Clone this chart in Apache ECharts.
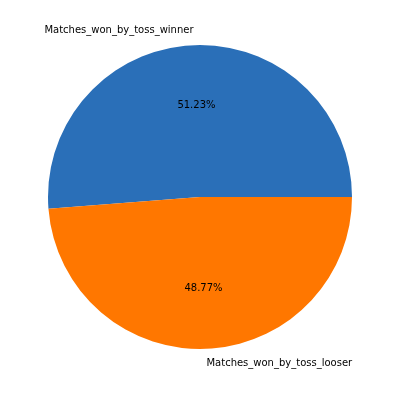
<!DOCTYPE html>
<html>
<head>
<meta charset="utf-8">
<script src="https://cdn.jsdelivr.net/npm/echarts@6/dist/echarts.min.js"></script>
<style>
html,body{margin:0;padding:0;background:#fff}
#main{width:411px;height:404px}
</style>
</head>
<body>
<div id="main"></div>
<script>
// toss outcome share
var labels = ['Matches_won_by_toss_winner', 'Matches_won_by_toss_looser'];
var shares = [51.23, 48.77];
var colors = ['#2a6fb8', '#ff7700'];

var pieData = [];
for (var i = 0; i < labels.length; i++) {
    pieData.push({name: labels[i], value: shares[i], itemStyle: {color: colors[i]}});
}
var ghostData = [];
for (var i = 0; i < labels.length; i++) {
    ghostData.push({name: labels[i], value: shares[i]});
}

var base = {
    type: 'pie',
    center: [200, 197],
    startAngle: 0,
    clockwise: false,
    avoidLabelOverlap: false,
    animation: false
};

var myChart = echarts.init(document.getElementById('main'));
myChart.setOption({
    backgroundColor: '#fff',
    series: [
        Object.assign({}, base, {
            radius: 152,
            data: pieData,
            label: {show: false},
            labelLine: {show: false},
            emphasis: {disabled: true}
        }),
        // percentages at ~0.6 r
        Object.assign({}, base, {
            radius: 177,
            silent: true,
            data: ghostData,
            itemStyle: {color: 'transparent'},
            label: {
                show: true,
                position: 'inside',
                color: '#000',
                fontFamily: 'DejaVu Sans',
                fontSize: 10,
                formatter: function (p) { return p.value.toFixed(2) + '%'; }
            },
            labelLine: {show: false}
        }),
        // names at 1.1 r
        Object.assign({}, base, {
            radius: 152,
            silent: true,
            data: ghostData,
            itemStyle: {color: 'transparent'},
            label: {
                show: true,
                position: 'outside',
                color: '#000',
                fontFamily: 'DejaVu Sans',
                fontSize: 10,
                distanceToLabelLine: 0,
                formatter: '{b}'
            },
            labelLine: {show: false, length: 15, length2: 0}
        })
    ]
});
</script>
</body>
</html>
